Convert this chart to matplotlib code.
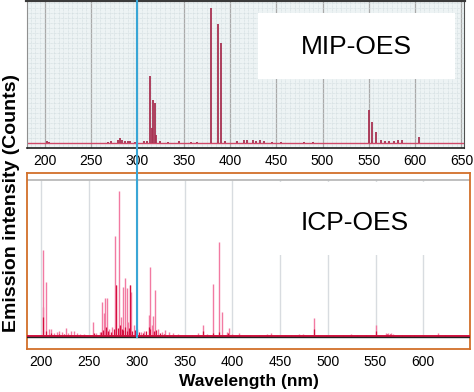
import matplotlib
matplotlib.use("Agg")
import matplotlib.pyplot as plt
from matplotlib.patches import Rectangle
from matplotlib.lines import Line2D
import numpy as np

plt.rcParams['font.family'] = ['Liberation Sans', 'DejaVu Sans']

# ---------------- data ----------------
mip_wl = [203, 205, 268, 272, 279, 281, 284, 287, 290, 292, 297, 307, 310,
          313.4, 315.5, 317, 319, 320.5, 325, 333, 345, 358, 365,
          379.6, 386.8, 390, 395, 408, 415, 419, 425, 428, 432, 437, 445, 455,
          480, 490, 550.5, 553.5, 557.5, 563, 568, 572, 577, 582, 586, 603.9]
mip_int = [2, 1.5, 1.5, 2, 3, 5, 3.5, 2.5, 2, 2, 1.5, 2, 2.5,
           67, 15, 43, 40, 8, 2, 1.5, 2, 1.5, 1.5,
           135, 119, 100, 2, 2.5, 3, 3, 3, 2.5, 3, 2, 1.5, 1.5,
           1.5, 1.5, 33, 21, 11, 3, 2.5, 2.5, 2.5, 3, 3, 6]

icp_wl = [201.4, 202.1, 205.2, 208, 209.8, 213, 216, 219, 222, 226, 228, 231,
          234, 237, 241, 245, 253.8, 257, 261, 263.6, 266, 267, 268.5, 271,
          274, 277.5, 278.2, 281.7, 283, 285.2, 287.3, 289.4, 291, 293.2,
          294.2, 297, 300, 304, 308, 312.5, 313.5, 316, 317.3, 319.4, 322,
          326, 329.8, 334, 338, 343, 350, 358, 364, 369, 373, 379.5, 386,
          389.5, 394, 396.2, 400, 407, 418, 428, 436, 441, 447, 455, 461,
          466, 470, 474, 485.2, 490, 498, 505, 516, 524, 531, 540, 550.2,
          561, 563, 566, 568, 578, 586, 590, 600, 615, 623]
icp_int = [30, 87, 55, 8, 8, 4, 5, 6, 5, 9, 4, 6,
           6, 4, 3, 3, 15, 4, 5, 35, 24, 39, 39, 8,
           10, 101, 52, 146, 20, 50, 59, 49, 15, 52,
           45, 12, 8, 5, 6, 22, 70, 12, 21, 47, 8,
           5, 7, 5, 4, 3, 2, 2, 4, 12, 3, 53, 95,
           25, 5, 9, 3, 4, 2, 2, 3, 4, 2, 2, 2,
           2, 3, 3, 19, 2, 2, 2, 2, 3, 2, 2, 12,
           4, 4, 4, 3, 2, 2, 2, 2, 4, 2]

# darker red low-level lines in ICP spectrum
icp_dark_wl = [202, 205, 210, 218, 224, 230, 255, 262, 265, 268, 270, 273,
               276, 278.2, 280, 282, 284, 286, 288, 290, 292, 293.2, 295,
               298, 302, 306, 310, 312.5, 314, 318, 320, 324, 328, 332,
               369, 380, 386, 396, 485.2, 550.2, 562, 565, 615]
icp_dark_int = [20, 6, 4, 3, 3, 2, 4, 5, 7, 10, 6, 5,
                8, 52, 9, 12, 8, 7, 10, 6, 9, 52, 6,
                7, 5, 4, 6, 10, 8, 6, 7, 4, 3, 2,
                6, 4, 5, 4, 8, 6, 3, 3, 2]

mip_ticks = [200, 250, 300, 350, 400, 450, 500, 550, 600, 650]
icp_ticks = [200, 250, 300, 350, 400, 450, 500, 550, 600]
marker_wl = 300

# ---------------- figure ----------------
W, H = 474, 392
fig = plt.figure(figsize=(W / 100, H / 100), dpi=100)

def px_rect(x0, y0, x1, y1):
    return [x0 / W, 1 - y1 / H, (x1 - x0) / W, (y1 - y0) / H]

# --- top panel (MIP-OES)
ax1 = fig.add_axes(px_rect(27, 0, 464, 148))
ax1.set_facecolor('#edf3f4')
ax1.set_xlim(180.9, 652.8)
ax1.set_ylim(-5, 143)
ax1.set_xticks(mip_ticks)
ax1.set_xticks(np.arange(185, 655, 5), minor=True)
ax1.set_yticks([])
ax1.set_yticks(np.arange(0, 145, 5), minor=True)
ax1.grid(which='minor', color='#cdd9dc', lw=0.5, ls=(0, (1, 1)))
ax1.grid(which='major', axis='x', color='#aaaaaa', lw=0.9)
ax1.set_axisbelow(True)
ax1.tick_params(which='both', length=0, labelsize=10, pad=4)
ax1.spines['top'].set_color('#3a3a3a')
ax1.spines['top'].set_linewidth(3)
ax1.spines['left'].set_color('#909090')
ax1.spines['right'].set_color('#505050')
ax1.spines['bottom'].set_color('#202020')
ax1.spines['bottom'].set_linewidth(1.2)
ax1.axhline(0, color='#d04868', lw=1.0, zorder=2)
ax1.vlines(mip_wl, 0, mip_int, color='#a83252', lw=1.3, zorder=3)
ax1.add_patch(Rectangle(((258 - 27) / 437, 1 - 79 / 148),
                        (455 - 258) / 437, (79 - 13) / 148,
                        transform=ax1.transAxes, facecolor='white',
                        edgecolor='none', zorder=2.5))
ax1.text((356 - 27) / 437, 1 - 47 / 148, 'MIP-OES', transform=ax1.transAxes,
         ha='center', va='center', fontsize=19, zorder=4)

# --- bottom panel (ICP-OES)
ax2 = fig.add_axes(px_rect(27, 172.7, 470, 349))
ax2.set_facecolor('white')
ax2.set_xlim(185.0, 648.9)
ax2.set_ylim(-12, 164.3)
ax2.set_xticks(icp_ticks)
ax2.set_yticks([])
ax2.tick_params(length=0, labelsize=10, pad=4)
for s in ax2.spines.values():
    s.set_color('#d2702a')
    s.set_linewidth(1.3)
ax2.vlines(icp_ticks, 0, 157, color='#d8dce0', lw=1.0, zorder=1)
ax2.axhline(157, color='#b4b4b4', lw=1.2, zorder=1)
ax2.add_patch(Rectangle(((250 - 27) / 443, 1 - (255 - 172.7) / 176.3),
                        (469 - 250) / 443, (255 - 182) / 176.3,
                        transform=ax2.transAxes, facecolor='white',
                        edgecolor='none', zorder=1.5))
ax2.text((355 - 27) / 443, 1 - (223 - 172.7) / 176.3, 'ICP-OES',
         transform=ax2.transAxes, ha='center', va='center', fontsize=19,
         zorder=4)
ax2.vlines(icp_wl, 0, icp_int, color='#f27aa2', lw=1.0, zorder=2)
ax2.vlines(icp_dark_wl, 0, icp_dark_int, color='#d4103e', lw=0.9, zorder=2.5)
ax2.axhline(1.5, color='#d4103e', lw=1.4, zorder=2.6)
ax2.axhline(0, color='#202020', lw=1.0, zorder=2.7)
ax2.set_xlabel('Wavelength (nm)', fontsize=12.5, fontweight='bold', labelpad=4)

# --- vertical marker line spanning both panels
xm = ax1.transData.transform((marker_wl, 0))[0]
xf = fig.transFigure.inverted().transform((xm, 0))[0]
yb = ax2.transData.transform((marker_wl, 0))[1]
yf = fig.transFigure.inverted().transform((0, yb))[1]
fig.add_artist(Line2D([xf, xf], [yf, 1.0], transform=fig.transFigure,
                      color='#3aa6d6', lw=1.5, zorder=10))

fig.text(12 / W, 1 - 203 / H, 'Emission intensity (Counts)', rotation=90,
         ha='center', va='center', fontsize=14, fontweight='bold')

fig.savefig('out.png', dpi=100)
